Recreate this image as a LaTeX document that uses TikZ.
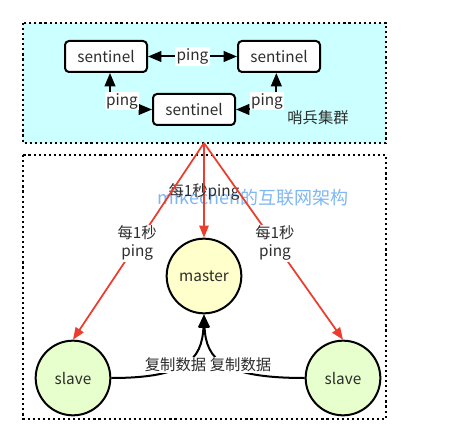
\documentclass[tikz,border=0pt]{standalone}
\usepackage{fontspec}
\setmainfont{Noto Sans CJK SC}
\usetikzlibrary{arrows.meta}

\definecolor{groupcyan}{RGB}{204,255,255}
\definecolor{masterfill}{RGB}{255,255,204}
\definecolor{slavefill}{RGB}{230,255,204}
\definecolor{pingred}{RGB}{235,60,45}
\definecolor{marktext}{RGB}{95,165,240}
\definecolor{labeltext}{RGB}{45,45,45}

\tikzset{every picture/.style={line width=0.75pt}}
\tikzset{
  sentbox/.style={draw, rounded corners=3pt, line width=1.5pt, fill=white,
    minimum width=61.5pt, minimum height=23.25pt, text=labeltext},
  nodecirc/.style={draw, circle, line width=1.5pt, minimum size=56pt, text=labeltext},
  groupframe/.style={line width=1.6pt, dash pattern=on 1.6pt off 2.2pt},
  pingline/.style={line width=1.5pt, {Triangle[length=10pt,width=8pt]}-{Triangle[length=10pt,width=8pt]}},
  redline/.style={pingred, line width=1.3pt, -{Triangle[length=9pt,width=7pt]}},
  copyline/.style={line width=1.5pt, -{Triangle[length=10pt,width=8pt]}},
  lbl/.style={fill=white, inner sep=1pt, text=labeltext, align=center}
}

\begin{document}
\begin{tikzpicture}[x=0.75pt,y=0.75pt,yscale=-1,xscale=1]
\fontsize{11.5}{13.5}\selectfont
\path [fill=white] (0,0) rectangle (474,431);

%Shape: Rectangle [sentinel group]
\draw [groupframe, fill=groupcyan] (23,23) rectangle (386,143);
%Shape: Rectangle [master / slave group]
\draw [groupframe] (23,155) rectangle (386,419);

% sentinels
\node [sentbox] (sentA) at (106,56.5) {sentinel};
\node [sentbox] (sentB) at (279,56.5) {sentinel};
\node [sentbox] (sentC) at (194,109.5) {sentinel};
% Text Node
\node [text=labeltext] (grp) at (318,118) {哨兵集群};

% ping between sentinels
\draw [pingline] (sentA) -- node [lbl] (pingAB) {ping} (sentB);
\draw [pingline] (sentC.west) -| ([xshift=3pt]sentA.south);
\node [lbl] (pingAC) at (122,101) {ping};
\draw [pingline] (sentC.east) -| ([xshift=-2pt]sentB.south);
\node [lbl] (pingBC) at (267,101) {ping};

% master and slaves
\node [nodecirc, fill=masterfill] (master) at (204,276) {master};
\node [nodecirc, fill=slavefill] (slaveL) at (73,378) {slave};
\node [nodecirc, fill=slavefill] (slaveR) at (343,378) {slave};

% watermark
\node [text=marktext, opacity=0.8, font=\fontsize{13.5}{15}\selectfont] (mark) at (253,198) {mikechen的互联网架构};

% sentinels ping every second
\coordinate (src) at (204,143);
\draw [redline] (src) -- node [lbl, fill opacity=0, text opacity=1, pos=0.52] (pingM) {每1秒ping} (master.north);
\draw [redline] (src) -- node [lbl, pos=0.51] (pingL) {每1秒\\ping} (slaveL.north);
\draw [redline] (src) -- node [lbl, pos=0.51] (pingR) {每1秒\\ping} (slaveR.north);

% replication
\draw [copyline] (slaveL.east) .. controls (185,378) and (202,360) .. (master.south);
\draw [copyline] (slaveR.west) .. controls (224,378) and (206,360) .. (master.south);
\node [lbl, inner sep=0.5pt] (copyL) at (175.5,365) {复制数据};
\node [lbl, inner sep=0.5pt] (copyR) at (240.5,365) {复制数据};
\end{tikzpicture}
\end{document}
